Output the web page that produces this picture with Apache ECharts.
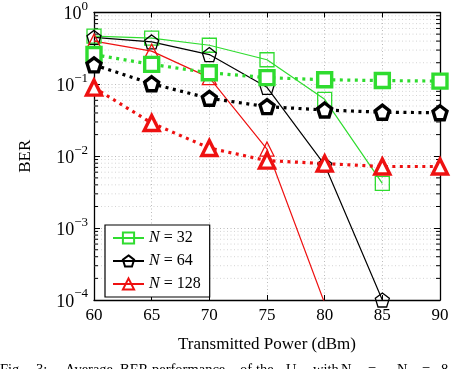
<!DOCTYPE html>
<html>
<head>
<meta charset="utf-8">
<script src="https://cdn.jsdelivr.net/npm/echarts@6/dist/echarts.min.js"></script>
<style>html,body{margin:0;padding:0;background:#fff;}#c{width:474px;height:369px;}</style>
</head>
<body>
<div id="c"></div>
<script>
// Data
const powers = [60, 65, 70, 75, 80, 85, 90];
const xTicks = [60, 65, 70, 75, 80, 85, 90];
// solid lines
const n32Solid = [0.47, 0.44, 0.35, 0.22, 0.062, 0.0042, null];
const n64Solid = [0.45, 0.39, 0.26, 0.091, 0.0076, 0.0001, null];
const n128Solid = [0.40, 0.29, 0.124, 0.0126, 0.00009, null, null];
// dotted lines
const n32Dotted = [0.26, 0.19, 0.145, 0.124, 0.116, 0.113, 0.111];
const n64Dotted = [0.187, 0.102, 0.064, 0.049, 0.044, 0.041, 0.0403];
const n128Dotted = [0.09, 0.029, 0.013, 0.0087, 0.0079, 0.0072, 0.0072];
const legendNames = ['N = 32', 'N = 64', 'N = 128'];
const captionWords = ['Fig.', '3:', 'Average', 'BER', 'performance', 'of', 'the', 'U', 'with', 'N\u209C', '=', 'N\u1D63', '=', '8'];
const captionX = [0, 36, 65, 120, 152, 240, 256, 286, 313, 341, 368, 397, 422, 441];

const GREEN = '#2fdc2f', BLACK = '#000000', RED = '#ee1111';
const SERIF = '"Liberation Serif","DejaVu Serif",serif';
const PENT = 'path://M50,0 L97.55,34.55 L79.39,90.45 L20.61,90.45 L2.45,34.55 Z';

// minor log grid values (2..9 per decade)
const minorVals = [];
for (let e = -4; e < 0; e++) for (let m = 2; m <= 9; m++) minorVals.push(m * Math.pow(10, e));

function pairs(vals) { return powers.map((p, i) => [p, vals[i]]).filter(d => d[1] !== null); }

function solidSeries(name, vals, color, symbol, size) {
  return {
    name, type: 'line', data: pairs(vals), color,
    symbol, symbolSize: size, clip: true,
    lineStyle: { color, width: 1.2 },
    itemStyle: { color: 'rgba(255,255,255,0)', borderColor: color, borderWidth: 1.3 },
    z: 3
  };
}
function dottedSeries(name, vals, color, symbol, size) {
  return {
    name, type: 'line', data: pairs(vals), color,
    symbol, symbolSize: size, clip: true,
    lineStyle: { color, width: 3.2, type: [3, 4.5], cap: 'butt' },
    itemStyle: { color: '#fff', borderColor: color, borderWidth: 3.4 },
    z: 4
  };
}

const chart = echarts.init(document.getElementById('c'), null, { renderer: 'canvas' });
const grid = { left: 94, top: 9, right: 34, bottom: 69 };
const yFmt = v => { const e = Math.round(Math.log10(v)); return '{b|10}{s|' + (e < 0 ? '\u2212' + (-e) : e) + '}'; };

chart.setOption({
  animation: false,
  backgroundColor: '#fff',
  grid,
  legend: {
    data: legendNames,
    left: 105, top: 225,
    orient: 'vertical',
    backgroundColor: '#fff',
    borderColor: '#000', borderWidth: 1.2,
    padding: [5, 9, 5, 7],
    itemWidth: 31, itemHeight: 14, itemGap: 7,
    formatter: n => '{i|N} = ' + n.split('= ')[1],
    textStyle: { fontFamily: SERIF, fontSize: 16, color: '#000',
      rich: { i: { fontFamily: SERIF, fontStyle: 'italic', fontSize: 16 } } }
  },
  xAxis: [{
    type: 'value', min: 60, max: 90, interval: 5,
    name: 'Transmitted Power (dBm)', nameLocation: 'middle', nameGap: 36,
    nameTextStyle: { fontFamily: SERIF, fontSize: 17, color: '#000' },
    axisLine: { onZero: false, lineStyle: { color: '#000', width: 1.3 } },
    axisTick: { inside: true, length: 5, lineStyle: { color: '#000' } },
    axisLabel: { fontFamily: SERIF, fontSize: 17, color: '#000', margin: 7, customValues: xTicks },
    splitLine: { show: true, lineStyle: { color: '#bbb', type: [1, 2.5], width: 1 } }
  }, {
    type: 'value', min: 60, max: 90, interval: 5, position: 'top',
    axisLine: { onZero: false, lineStyle: { color: '#000', width: 1.3 } },
    axisTick: { inside: true, length: 5, lineStyle: { color: '#000' } },
    axisLabel: { show: false }, splitLine: { show: false }
  }],
  yAxis: [{
    type: 'log', logBase: 10, min: 1e-4, max: 1,
    name: 'BER', nameLocation: 'middle', nameGap: 60,
    nameTextStyle: { fontFamily: SERIF, fontSize: 17, color: '#000' },
    axisLine: { onZero: false, lineStyle: { color: '#000', width: 1.3 } },
    axisTick: { inside: true, length: 6, lineStyle: { color: '#000' } },
    axisLabel: {
      formatter: yFmt, margin: 6, color: '#000',
      rich: {
        b: { fontFamily: SERIF, fontSize: 18, color: '#000', padding: [4, 0, 0, 0] },
        s: { fontFamily: SERIF, fontSize: 13, color: '#000', padding: [0, 0, 12, 0] }
      }
    },
    splitLine: { show: true, lineStyle: { color: '#bbb', type: [1, 2.5], width: 1 } }
  }, {
    type: 'log', logBase: 10, min: 1e-4, max: 1, position: 'right',
    axisLine: { onZero: false, lineStyle: { color: '#000', width: 1.3 } },
    axisTick: { inside: true, length: 6, lineStyle: { color: '#000' } },
    axisLabel: { show: false }, splitLine: { show: false }
  }],
  graphic: captionWords.map((w, i) => ({
    type: 'text', left: captionX[i], top: 362.5,
    style: { text: w, font: '14.5px "Liberation Serif", serif', fill: '#000' }
  })),
  series: [
    {
      name: 'minor', type: 'custom', data: minorVals.map(v => [60, v]), silent: true, z: 1,
      renderItem: (params, api) => {
        const v = api.value(1);
        const p0 = api.coord([60, v]);
        const p1 = api.coord([90, v]);
        return { type: 'group', children: [
          { type: 'line', shape: { x1: p0[0], y1: p0[1], x2: p1[0], y2: p1[1] },
            style: { stroke: '#d4d4d4', lineWidth: 1, lineDash: [1, 2.5] } },
          { type: 'line', shape: { x1: p0[0], y1: p0[1], x2: p0[0] + 4, y2: p0[1] },
            style: { stroke: '#000', lineWidth: 1 } },
          { type: 'line', shape: { x1: p1[0], y1: p1[1], x2: p1[0] - 4, y2: p1[1] },
            style: { stroke: '#000', lineWidth: 1 } }
        ] };
      }
    },
    dottedSeries('N = 32 dotted', n32Dotted, GREEN, 'rect', 14),
    dottedSeries('N = 64 dotted', n64Dotted, BLACK, PENT, 14),
    dottedSeries('N = 128 dotted', n128Dotted, RED, 'triangle', 15),
    solidSeries('N = 32', n32Solid, GREEN, 'rect', 14),
    solidSeries('N = 64', n64Solid, BLACK, PENT, 14),
    solidSeries('N = 128', n128Solid, RED, 'triangle', 14)
  ]
});
</script>
</body>
</html>
